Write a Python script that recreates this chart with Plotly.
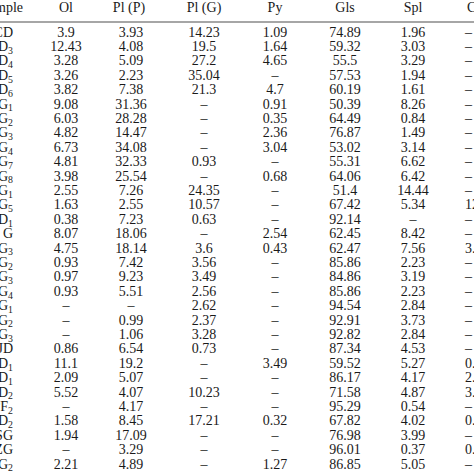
import plotly.graph_objects as go

headers = ["Sample", "Ol", "Pl (P)", "Pl (G)", "Py", "Gls", "Spl"]
last_header = "Cr"
samples = ["JCD", "JCD<sub>3</sub>", "JCD<sub>4</sub>", "JCD<sub>5</sub>", "JCD<sub>6</sub>",
           "HSG<sub>1</sub>", "HSG<sub>2</sub>", "HSG<sub>3</sub>", "HSG<sub>4</sub>", "HSG<sub>7</sub>",
           "HSG<sub>8</sub>", "LSG<sub>1</sub>", "LSG<sub>5</sub>", "LSD<sub>1</sub>", "G",
           "G<sub>3</sub>", "TSG<sub>2</sub>", "TSG<sub>3</sub>", "TSG<sub>4</sub>", "PG<sub>1</sub>",
           "PG<sub>2</sub>", "PG<sub>3</sub>", "JD", "ND<sub>1</sub>", "SD<sub>1</sub>",
           "SD<sub>2</sub>", "PF<sub>2</sub>", "SD<sub>2</sub>", "SG", "ZG", "ZG<sub>2</sub>"]
ol = ["3.9", "12.43", "3.28", "3.26", "3.82", "9.08", "6.03", "4.82", "6.73", "4.81", "3.98",
      "2.55", "1.63", "0.38", "8.07", "4.75", "0.93", "0.97", "0.93", "–", "–", "–", "0.86",
      "11.1", "2.09", "5.52", "–", "1.58", "1.94", "–", "2.21"]
pl_p = ["3.93", "4.08", "5.09", "2.23", "7.38", "31.36", "28.28", "14.47", "34.08", "32.33",
        "25.54", "7.26", "2.55", "7.23", "18.06", "18.14", "7.42", "9.23", "5.51", "–", "0.99",
        "1.06", "6.54", "19.2", "5.07", "4.07", "4.17", "8.45", "17.09", "3.29", "4.89"]
pl_g = ["14.23", "19.5", "27.2", "35.04", "21.3", "–", "–", "–", "–", "0.93", "–", "24.35",
        "10.57", "0.63", "–", "3.6", "3.56", "3.49", "2.56", "2.62", "2.37", "3.28", "0.73",
        "–", "–", "10.23", "–", "17.21", "–", "–", "–"]
py = ["1.09", "1.64", "4.65", "–", "4.7", "0.91", "0.35", "2.36", "3.04", "–", "0.68", "–",
      "–", "–", "2.54", "0.43", "–", "–", "–", "–", "–", "–", "–", "3.49", "–", "–", "–",
      "0.32", "–", "–", "1.27"]
gls = ["74.89", "59.32", "55.5", "57.53", "60.19", "50.39", "64.49", "76.87", "53.02", "55.31",
       "64.06", "51.4", "67.42", "92.14", "62.45", "62.47", "85.86", "84.86", "85.86", "94.54",
       "92.91", "92.82", "87.34", "59.52", "86.17", "71.58", "95.29", "67.82", "76.98", "96.01",
       "86.85"]
spl = ["1.96", "3.03", "3.29", "1.94", "1.61", "8.26", "0.84", "1.49", "3.14", "6.62", "6.42",
       "14.44", "5.34", "–", "8.42", "7.56", "2.23", "3.19", "2.23", "2.84", "3.73", "2.84",
       "4.53", "5.27", "4.17", "4.87", "0.54", "4.02", "3.99", "0.37", "5.05"]
cr = ["–", "–", "–", "–", "–", "–", "–", "–", "–", "–", "–", "–", "12.49", "–", "–", "3.12",
      "–", "–", "–", "–", "–", "–", "–", "0.42", "2.51", "3.25", "–", "0.62", "–", "0.33", "–"]

columns = [ol, pl_p, pl_g, py, gls, spl]
col_x = [66, 131, 204, 275, 345, 413]
header_x = [2, 66, 129, 204, 275, 345, 413]
row_y = [33 + 14.4 * i for i in range(len(samples))]
font = dict(family="Liberation Serif", size=14, color="#1a1a1a")

fig = go.Figure()
fig.add_trace(go.Scatter(x=header_x, y=[8] * len(headers), text=headers, mode="text",
                         textposition="middle center", textfont=font, hoverinfo="skip",
                         cliponaxis=False))
fig.add_trace(go.Scatter(x=[467], y=[8], text=[last_header], mode="text",
                         textposition="middle right", textfont=font, hoverinfo="skip",
                         cliponaxis=False))
fig.add_trace(go.Scatter(x=[13] * len(samples), y=row_y, text=samples, mode="text",
                         textposition="middle left", textfont=font, hoverinfo="skip",
                         cliponaxis=False))
for cx, vals in zip(col_x, columns):
    fig.add_trace(go.Scatter(x=[cx] * len(vals), y=row_y, text=vals, mode="text",
                             textposition="middle center", textfont=font, hoverinfo="skip",
                             cliponaxis=False))
fig.add_trace(go.Scatter(x=[465] * len(cr), y=row_y, text=cr, mode="text",
                         textposition="middle right", textfont=font, hoverinfo="skip",
                         cliponaxis=False))

fig.add_shape(type="line", x0=0, x1=474, y0=22, y1=22, line=dict(color="#888", width=1.5))
fig.update_layout(width=474, height=474, margin=dict(l=0, r=0, t=0, b=0),
                  paper_bgcolor="white", plot_bgcolor="white", showlegend=False,
                  xaxis=dict(range=[0, 474], visible=False, fixedrange=True),
                  yaxis=dict(range=[474, 0], visible=False, fixedrange=True))
fig.write_html("out.html", config={"displayModeBar": False},
               post_script="document.body.style.margin='0';document.body.style.overflow='hidden';")
